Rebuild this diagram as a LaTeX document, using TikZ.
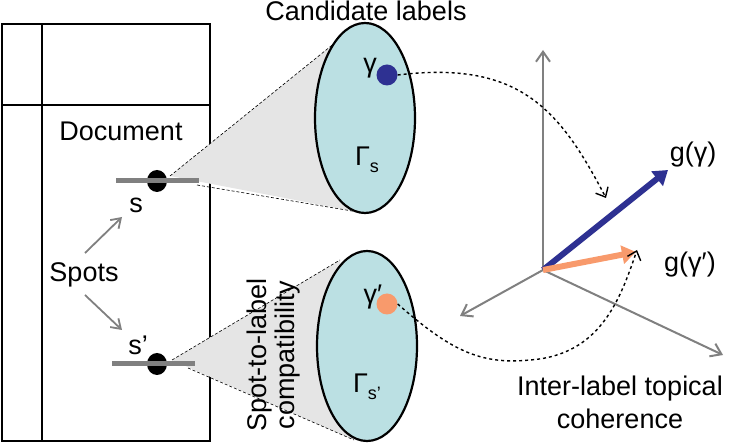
\documentclass[tikz,border=0pt]{standalone}
\usepackage{fontspec}
\setmainfont{Liberation Sans}
\usetikzlibrary{arrows.meta,shapes.geometric}
\begin{document}
\begin{tikzpicture}[x=1pt,y=-1pt,
  lbl/.style={font=\fontsize{27}{30}\selectfont,inner sep=0pt},
  ax/.style={draw=gray,line width=2pt,-{Straight Barb[length=10pt,width=14pt]}},
  garr/.style={draw=gray,line width=1.8pt,-{Straight Barb[length=9pt,width=12pt]}},
  ell/.style={ellipse,fill=cyanfill,draw=black,line width=2.2pt,minimum width=100pt,minimum height=190pt},
  dcurve/.style={draw=black,dashed,line width=1.4pt,-{Straight Barb[length=8pt,width=14pt]}},
  bar/.style={draw=gray,line width=5pt}]
\useasboundingbox (0,0) rectangle (731,443);
\definecolor{cyanfill}{RGB}{187,224,227}
\draw[line width=2pt] (2,24) rectangle (210,441);
\draw[line width=2pt] (42,24) -- (42,441);
\draw[line width=2pt] (2,105) -- (210,105);
\node[lbl] (doc) at (121,131) {Document};
% cones
\fill[black!10] (170,176) -- (336,42) -- (358,212) -- cycle;
\draw[densely dashed,line width=0.6pt] (170,176) -- (336,42) (197,185) -- (358,212);
\fill[black!10] (172,360) -- (340,260) -- (354,440) -- cycle;
\draw[densely dashed,line width=0.6pt] (172,360) -- (340,260) (188,368) -- (354,440);
\node[ell] (e1) at (365,118) {};
\node[ell] (e2) at (367,346) {};
% spots
\fill (157,181) ellipse (10pt and 11pt);
\draw[bar] (116,181) -- (199,181);
\fill (157,364) ellipse (10pt and 11pt);
\draw[bar] (112,364) -- (195,364);
\node[lbl] (s) at (136,205) {s};
\node[lbl] (s2) at (138,345) {s’};
\node[lbl] (spots) at (84,275) {Spots};
\draw[garr] (85,253) -- (122,217);
\draw[garr] (85,295) -- (122,330);
\node[lbl,rotate=90] (comp) at (274,355) {\begin{tabular}{@{}c@{}}Spot-to-label\\[-2pt]compatibility\end{tabular}};
\node[lbl] (cand) at (366,11) {Candidate labels};
% dots
\node[circle,fill={rgb,255:red,46;green,49;blue,146},minimum size=21pt,inner sep=0pt] (y) at (387,75) {};
\node[lbl] (yl) at (370,68) {γ};
\node[circle,fill={rgb,255:red,248;green,154;blue,108},minimum size=21pt,inner sep=0pt] (y2) at (387,304) {};
\node[lbl] (y2l) at (373,297) {γ′};
\node[lbl] (G1) at (367,160) {Γ\raisebox{-7pt}{\fontsize{18}{18}\selectfont s}};
\node[lbl] (G2) at (367,387) {Γ\raisebox{-7pt}{\fontsize{18}{18}\selectfont s’}};
% axes
\coordinate (o) at (543,270);
\coordinate (ax1) at (543,50);
\coordinate (ax2) at (460,316);
\coordinate (ax3) at (723,355);
\draw[ax] (o) -- (ax1);
\draw[ax] (o) -- (ax2);
\draw[ax] (o) -- (ax3);
\coordinate (gb) at (668,170);
\coordinate (go) at (636,252);
\draw[line width=6pt,draw={rgb,255:red,46;green,49;blue,146},-{Triangle[length=14pt,width=18pt]}] (o) -- (gb);
\draw[line width=6pt,draw={rgb,255:red,248;green,154;blue,108},-{Triangle[length=14pt,width=18pt]}] (o) -- (go);
\node[lbl] (g1) at (693,155) {g(γ)};
\node[lbl] (g2) at (690,265) {g(γ′)};
\coordinate (t1) at (606,198);
\coordinate (t2) at (637,250);
\draw[dcurve] (y.east) .. controls (520,60) and (560,110) .. (t1);
\draw[dcurve] (y2.east) .. controls (450,350) and (480,365) .. (530,360) .. controls (600,355) and (620,300) .. (t2);
\node[lbl,align=center] (coh) at (620,402) {Inter-label topical\\[3pt]coherence};
\end{tikzpicture}
\end{document}
